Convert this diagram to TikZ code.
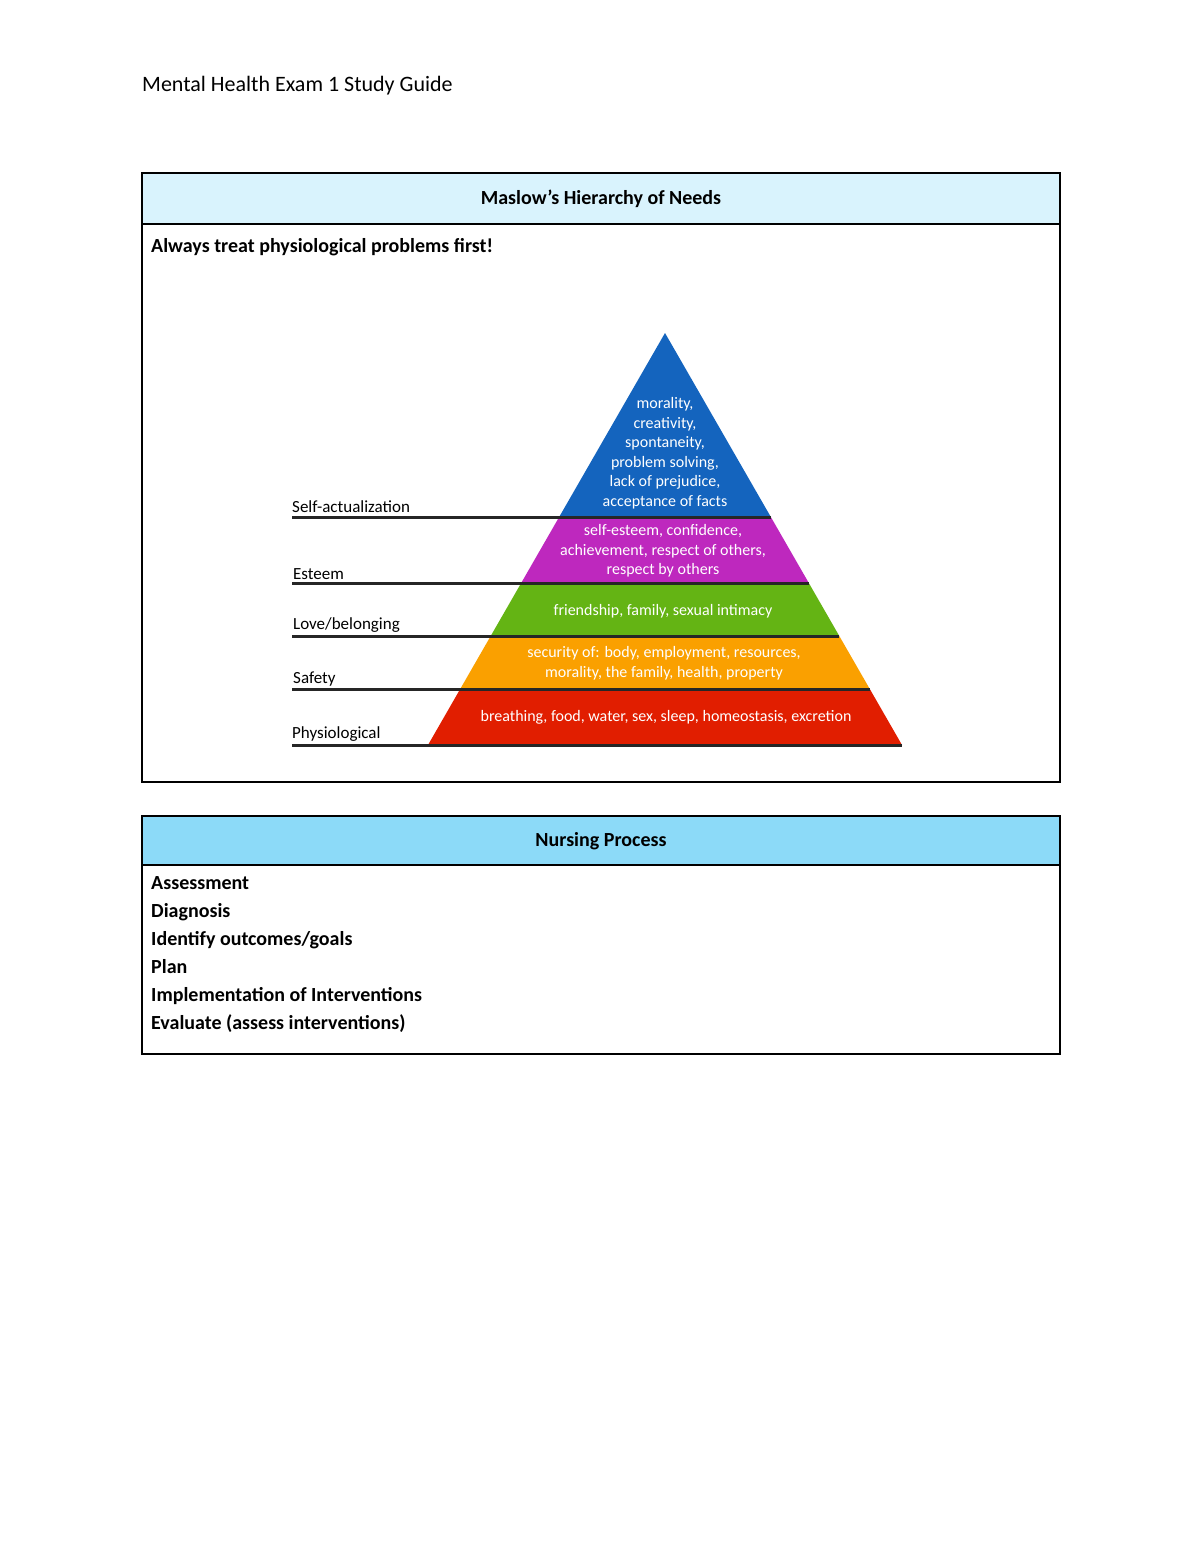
\documentclass[tikz,border=0pt]{standalone}
\usepackage{fontspec}
\setmainfont{Carlito}
\begin{document}
\begin{tikzpicture}[x=1pt,y=-1pt,
  boxline/.style={draw=black,line width=2pt},
  hdr/.style={font=\fontsize{20}{24}\selectfont\bfseries},
  body/.style={font=\fontsize{20}{28}\selectfont\bfseries,anchor=north west,align=left,inner sep=0pt},
  ptext/.style={font=\fontsize{16}{19.5}\selectfont,text=white,align=center,inner sep=0pt},
  lbl/.style={font=\fontsize{17}{20}\selectfont,anchor=south west,inner sep=1pt},
  band/.style={line width=3pt,draw=black!85}]
\useasboundingbox (0,0) rectangle (1200,1553);
\fill[white] (0,0) rectangle (1200,1553);
\node[font=\fontsize{22}{26}\selectfont,anchor=west,inner sep=0pt] (title) at (142,86) {Mental Health Exam 1 Study Guide};
% box 1
\fill[cyan!15!white] (142,173) rectangle (1060,224);
\draw[boxline] (142,173) rectangle (1060,782);
\draw[boxline] (142,224) -- (1060,224);
\node[hdr] (h1) at (601,199) {Maslow’s Hierarchy of Needs};
\node[body] (b1) at (151,238) {Always treat physiological problems first!};
% pyramid
\def\ax{665}\def\ay{333}
\pgfmathsetmacro{\k}{237/412}
\foreach \ya/\yb/\col in {333/517/{rgb,255:red,20;green,100;blue,190},517/583/{rgb,255:red,190;green,40;blue,190},583/636/{rgb,255:red,100;green,180;blue,20},636/689/{rgb,255:red,250;green,160;blue,0},689/745/{rgb,255:red,225;green,30;blue,0}}{
  \pgfmathsetmacro{\wa}{\k*(\ya-\ay)}
  \pgfmathsetmacro{\wb}{\k*(\yb-\ay)}
  \fill[color=\col] (\ax-\wa,\ya) -- (\ax+\wa,\ya) -- (\ax+\wb,\yb) -- (\ax-\wb,\yb) -- cycle;
}
\foreach \y in {517,583,636,689,745}{
  \pgfmathsetmacro{\w}{\k*(\y-\ay)}
  \draw[band] (292,\y) -- (\ax+\w,\y);
}
\node[ptext] (t1) at (665,453) {morality,\\creativity,\\spontaneity,\\problem solving,\\lack of prejudice,\\acceptance of facts};
\node[ptext] (t2) at (663,551) {self-esteem, confidence,\\achievement, respect of others,\\respect by others};
\node[ptext] (t3) at (663,611) {friendship, family, sexual intimacy};
\node[ptext] (t4) at (664,663) {security of: body, employment, resources,\\morality, the family, health, property};
\node[ptext] (t5) at (666,717) {breathing, food, water, sex, sleep, homeostasis, excretion};
\node[lbl] (l1) at (291,514) {Self-actualization};
\node[lbl] (l2) at (292,581) {Esteem};
\node[lbl] (l3) at (292,634) {Love/belonging};
\node[lbl] (l4) at (292,687) {Safety};
\node[lbl] (l5) at (291,743) {Physiological};
% box 2
\fill[cyan!45!white] (142,816) rectangle (1060,865);
\draw[boxline] (142,816) rectangle (1060,1054);
\draw[boxline] (142,865) -- (1060,865);
\node[hdr] (h2) at (601,841) {Nursing Process};
\node[body] (b2) at (151,876) {Assessment\\Diagnosis\\Identify outcomes/goals\\Plan\\Implementation of Interventions\\Evaluate (assess interventions)};
\end{tikzpicture}
\end{document}
